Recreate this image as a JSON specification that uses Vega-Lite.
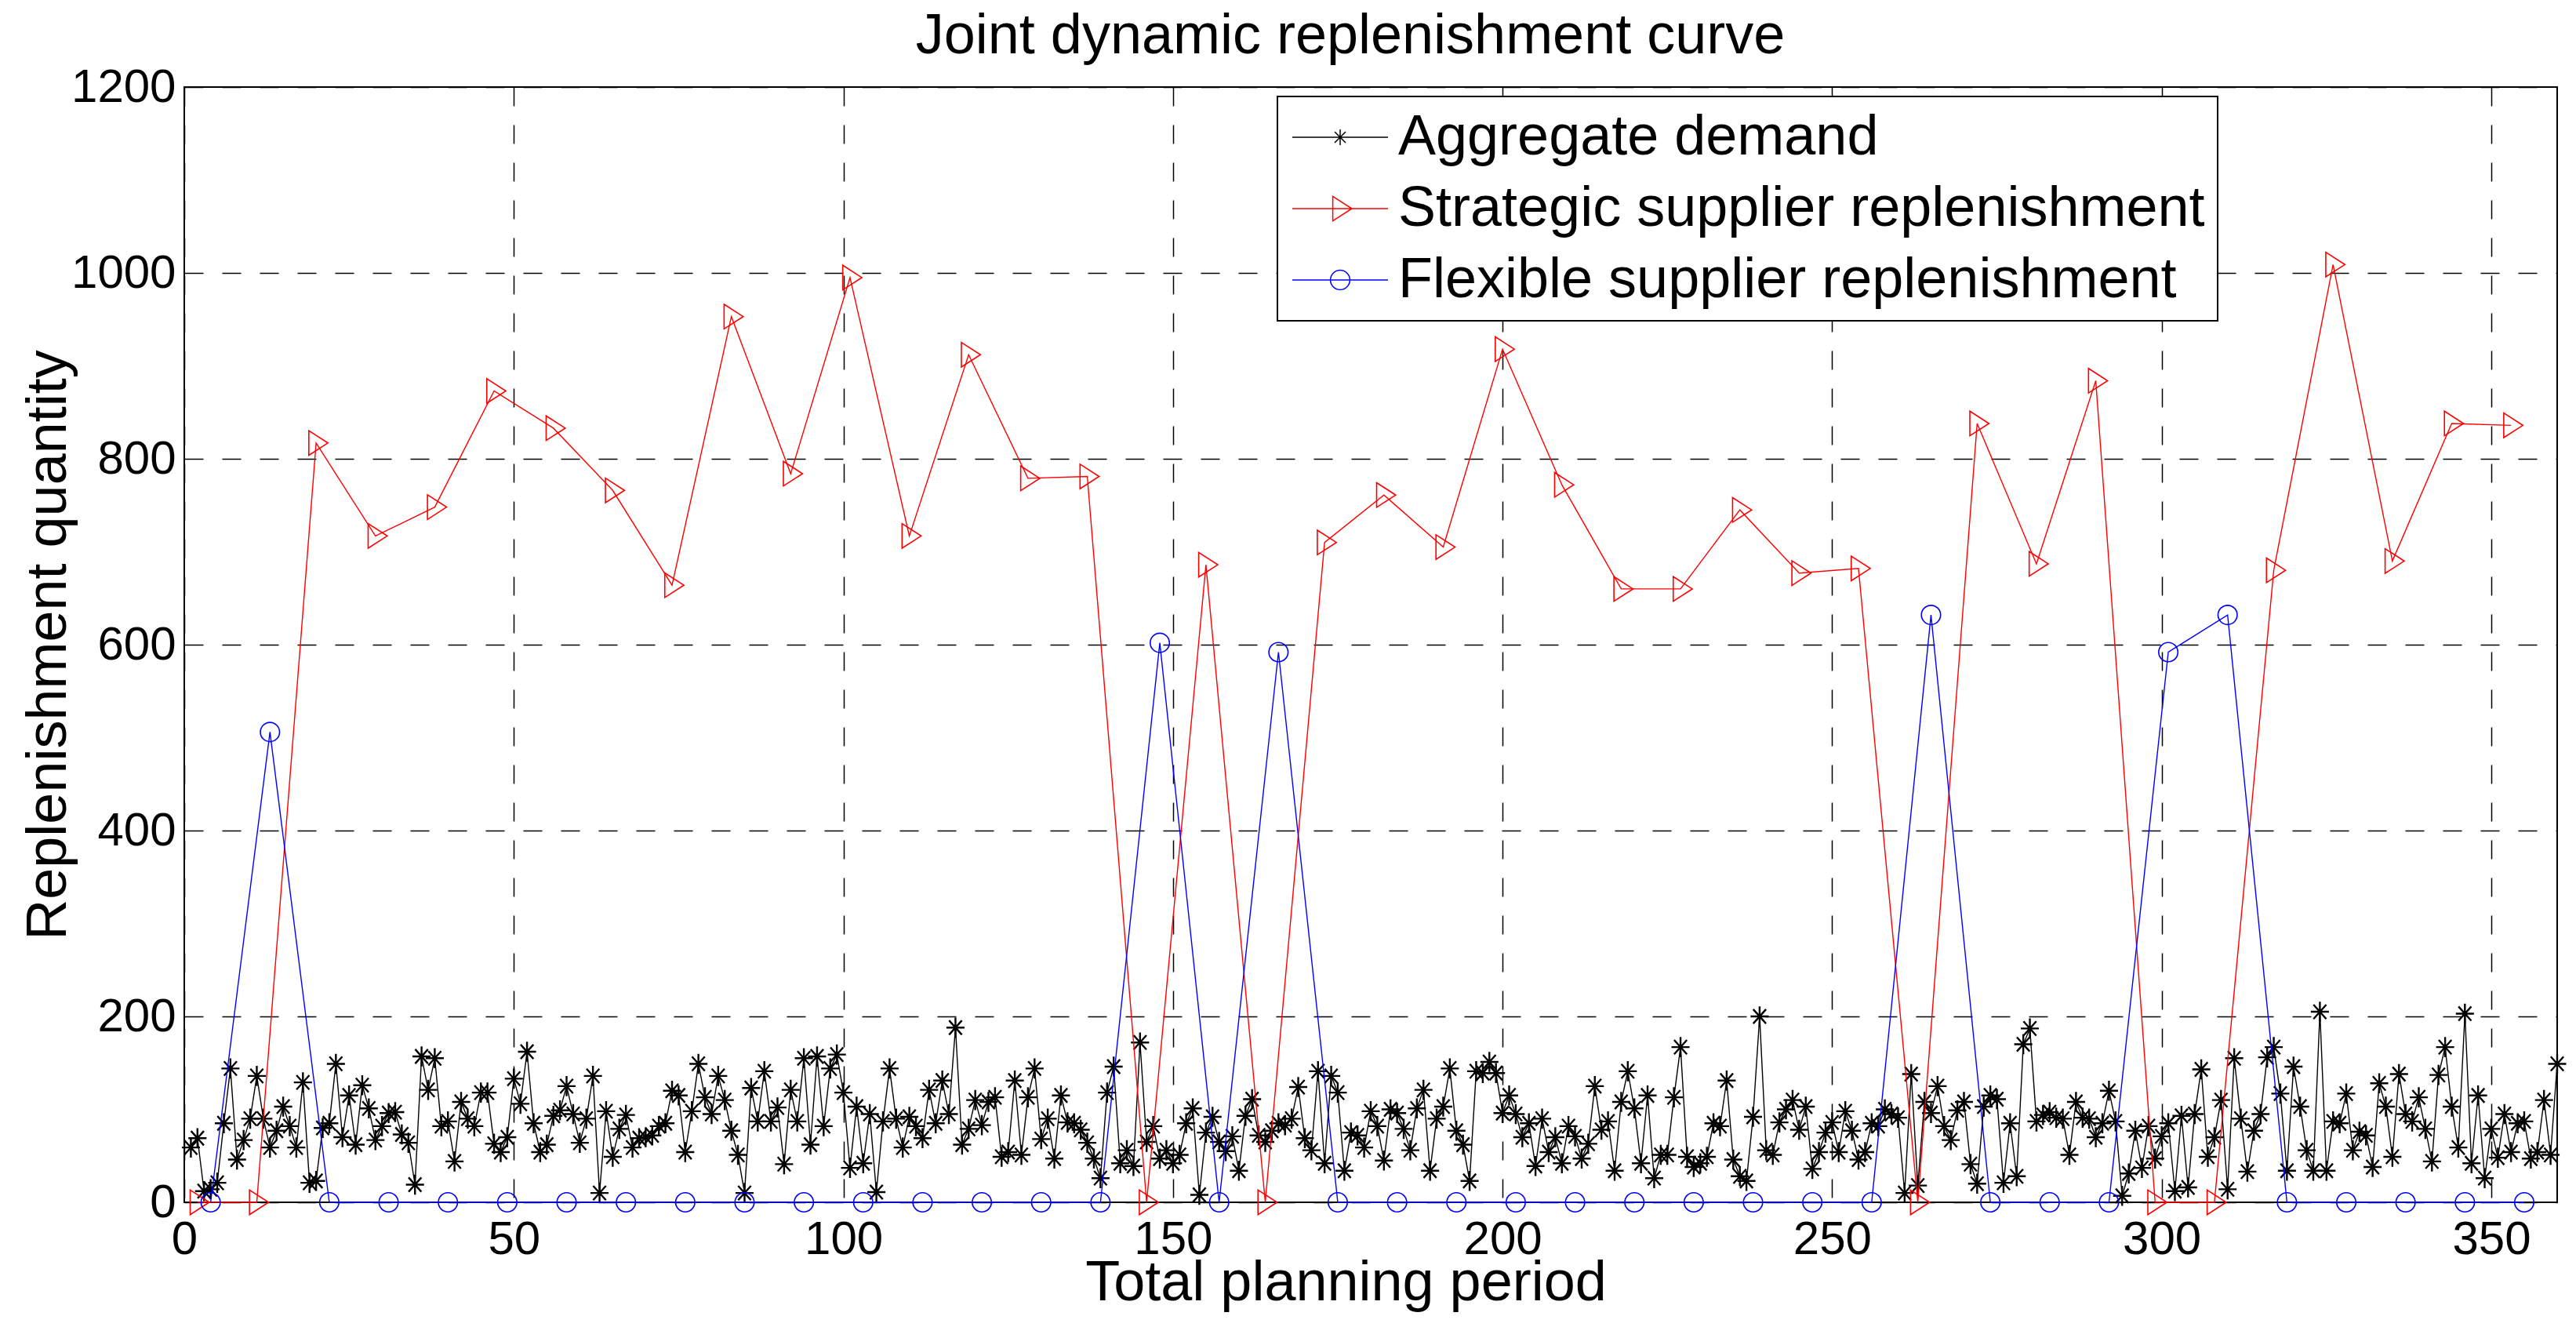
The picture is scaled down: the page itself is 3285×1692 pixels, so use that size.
{
  "$schema": "https://vega.github.io/schema/vega-lite/v6.json",
  "width": 3026,
  "height": 1422,
  "autosize": {"type": "none"},
  "padding": {"left": 235, "top": 111, "right": 24, "bottom": 159},
  "background": "#ffffff",
  "title": {
    "text": "Joint dynamic replenishment curve",
    "font": "Liberation Sans", "fontSize": 72, "fontWeight": "normal", "color": "#000000",
    "baseline": "alphabetic", "offset": -59, "dx": -26
  },
  "datasets": {
    "demand": [
      {"period":1,"quantity":59},{"period":2,"quantity":69},{"period":3,"quantity":12},{"period":4,"quantity":14},{"period":5,"quantity":21},
      {"period":6,"quantity":85},{"period":7,"quantity":144},{"period":8,"quantity":46},{"period":9,"quantity":67},{"period":10,"quantity":90},
      {"period":11,"quantity":136},{"period":12,"quantity":90},{"period":13,"quantity":59},{"period":14,"quantity":77},{"period":15,"quantity":103},
      {"period":16,"quantity":82},{"period":17,"quantity":59},{"period":18,"quantity":129},{"period":19,"quantity":21},{"period":20,"quantity":23},
      {"period":21,"quantity":80},{"period":22,"quantity":85},{"period":23,"quantity":149},{"period":24,"quantity":70},{"period":25,"quantity":115},
      {"period":26,"quantity":62},{"period":27,"quantity":126},{"period":28,"quantity":101},{"period":29,"quantity":67},{"period":30,"quantity":82},
      {"period":31,"quantity":96},{"period":32,"quantity":97},{"period":33,"quantity":73},{"period":34,"quantity":64},{"period":35,"quantity":19},
      {"period":36,"quantity":157},{"period":37,"quantity":121},{"period":38,"quantity":155},{"period":39,"quantity":82},{"period":40,"quantity":87},
      {"period":41,"quantity":44},{"period":42,"quantity":108},{"period":43,"quantity":90},{"period":44,"quantity":82},{"period":45,"quantity":118},
      {"period":46,"quantity":118},{"period":47,"quantity":63},{"period":48,"quantity":54},{"period":49,"quantity":70},{"period":50,"quantity":133},
      {"period":51,"quantity":106},{"period":52,"quantity":162},{"period":53,"quantity":85},{"period":54,"quantity":54},{"period":55,"quantity":62},
      {"period":56,"quantity":93},{"period":57,"quantity":99},{"period":58,"quantity":125},{"period":59,"quantity":95},{"period":60,"quantity":64},
      {"period":61,"quantity":90},{"period":62,"quantity":136},{"period":63,"quantity":10},{"period":64,"quantity":98},{"period":65,"quantity":49},
      {"period":66,"quantity":79},{"period":67,"quantity":94},{"period":68,"quantity":59},{"period":69,"quantity":69},{"period":70,"quantity":70},
      {"period":71,"quantity":72},{"period":72,"quantity":82},{"period":73,"quantity":85},{"period":74,"quantity":120},{"period":75,"quantity":115},
      {"period":76,"quantity":54},{"period":77,"quantity":98},{"period":78,"quantity":149},{"period":79,"quantity":113},{"period":80,"quantity":95},
      {"period":81,"quantity":136},{"period":82,"quantity":110},{"period":83,"quantity":77},{"period":84,"quantity":51},{"period":85,"quantity":10},
      {"period":86,"quantity":123},{"period":87,"quantity":87},{"period":88,"quantity":141},{"period":89,"quantity":87},{"period":90,"quantity":102},
      {"period":91,"quantity":41},{"period":92,"quantity":121},{"period":93,"quantity":87},{"period":94,"quantity":155},{"period":95,"quantity":62},
      {"period":96,"quantity":157},{"period":97,"quantity":82},{"period":98,"quantity":144},{"period":99,"quantity":159},{"period":100,"quantity":118},
      {"period":101,"quantity":37},{"period":102,"quantity":103},{"period":103,"quantity":42},{"period":104,"quantity":95},{"period":105,"quantity":11},
      {"period":106,"quantity":87},{"period":107,"quantity":144},{"period":108,"quantity":90},{"period":109,"quantity":59},{"period":110,"quantity":92},
      {"period":111,"quantity":82},{"period":112,"quantity":69},{"period":113,"quantity":121},{"period":114,"quantity":85},{"period":115,"quantity":131},
      {"period":116,"quantity":95},{"period":117,"quantity":188},{"period":118,"quantity":62},{"period":119,"quantity":79},{"period":120,"quantity":110},
      {"period":121,"quantity":83},{"period":122,"quantity":108},{"period":123,"quantity":113},{"period":124,"quantity":49},{"period":125,"quantity":54},
      {"period":126,"quantity":131},{"period":127,"quantity":51},{"period":128,"quantity":113},{"period":129,"quantity":144},{"period":130,"quantity":68},
      {"period":131,"quantity":90},{"period":132,"quantity":47},{"period":133,"quantity":115},{"period":134,"quantity":86},{"period":135,"quantity":85},
      {"period":136,"quantity":78},{"period":137,"quantity":64},{"period":138,"quantity":47},{"period":139,"quantity":26},{"period":140,"quantity":118},
      {"period":141,"quantity":146},{"period":142,"quantity":42},{"period":143,"quantity":56},{"period":144,"quantity":39},{"period":145,"quantity":172},
      {"period":146,"quantity":65},{"period":147,"quantity":82},{"period":148,"quantity":47},{"period":149,"quantity":56},{"period":150,"quantity":42},
      {"period":151,"quantity":51},{"period":152,"quantity":85},{"period":153,"quantity":101},{"period":154,"quantity":8},{"period":155,"quantity":75},
      {"period":156,"quantity":92},{"period":157,"quantity":65},{"period":158,"quantity":55},{"period":159,"quantity":71},{"period":160,"quantity":34},
      {"period":161,"quantity":93},{"period":162,"quantity":111},{"period":163,"quantity":72},{"period":164,"quantity":65},{"period":165,"quantity":77},
      {"period":166,"quantity":85},{"period":167,"quantity":83},{"period":168,"quantity":90},{"period":169,"quantity":124},{"period":170,"quantity":69},
      {"period":171,"quantity":56},{"period":172,"quantity":141},{"period":173,"quantity":42},{"period":174,"quantity":136},{"period":175,"quantity":118},
      {"period":176,"quantity":34},{"period":177,"quantity":75},{"period":178,"quantity":72},{"period":179,"quantity":59},{"period":180,"quantity":98},
      {"period":181,"quantity":82},{"period":182,"quantity":45},{"period":183,"quantity":100},{"period":184,"quantity":96},{"period":185,"quantity":79},
      {"period":186,"quantity":56},{"period":187,"quantity":101},{"period":188,"quantity":121},{"period":189,"quantity":34},{"period":190,"quantity":90},
      {"period":191,"quantity":103},{"period":192,"quantity":144},{"period":193,"quantity":77},{"period":194,"quantity":62},{"period":195,"quantity":23},
      {"period":196,"quantity":141},{"period":197,"quantity":139},{"period":198,"quantity":151},{"period":199,"quantity":139},{"period":200,"quantity":96},
      {"period":201,"quantity":115},{"period":202,"quantity":95},{"period":203,"quantity":70},{"period":204,"quantity":85},{"period":205,"quantity":39},
      {"period":206,"quantity":90},{"period":207,"quantity":54},{"period":208,"quantity":70},{"period":209,"quantity":42},{"period":210,"quantity":82},
      {"period":211,"quantity":71},{"period":212,"quantity":47},{"period":213,"quantity":63},{"period":214,"quantity":125},{"period":215,"quantity":78},
      {"period":216,"quantity":87},{"period":217,"quantity":34},{"period":218,"quantity":108},{"period":219,"quantity":141},{"period":220,"quantity":101},
      {"period":221,"quantity":42},{"period":222,"quantity":115},{"period":223,"quantity":26},{"period":224,"quantity":51},{"period":225,"quantity":51},
      {"period":226,"quantity":113},{"period":227,"quantity":167},{"period":228,"quantity":49},{"period":229,"quantity":38},{"period":230,"quantity":42},
      {"period":231,"quantity":49},{"period":232,"quantity":85},{"period":233,"quantity":82},{"period":234,"quantity":131},{"period":235,"quantity":46},
      {"period":236,"quantity":28},{"period":237,"quantity":23},{"period":238,"quantity":92},{"period":239,"quantity":200},{"period":240,"quantity":56},
      {"period":241,"quantity":51},{"period":242,"quantity":86},{"period":243,"quantity":100},{"period":244,"quantity":110},{"period":245,"quantity":78},
      {"period":246,"quantity":103},{"period":247,"quantity":36},{"period":248,"quantity":54},{"period":249,"quantity":75},{"period":250,"quantity":86},
      {"period":251,"quantity":54},{"period":252,"quantity":98},{"period":253,"quantity":77},{"period":254,"quantity":46},{"period":255,"quantity":54},
      {"period":256,"quantity":85},{"period":257,"quantity":82},{"period":258,"quantity":100},{"period":259,"quantity":95},{"period":260,"quantity":91},
      {"period":261,"quantity":10},{"period":262,"quantity":138},{"period":263,"quantity":18},{"period":264,"quantity":108},{"period":265,"quantity":96},
      {"period":266,"quantity":125},{"period":267,"quantity":82},{"period":268,"quantity":67},{"period":269,"quantity":99},{"period":270,"quantity":108},
      {"period":271,"quantity":41},{"period":272,"quantity":20},{"period":273,"quantity":103},{"period":274,"quantity":115},{"period":275,"quantity":111},
      {"period":276,"quantity":21},{"period":277,"quantity":85},{"period":278,"quantity":28},{"period":279,"quantity":170},{"period":280,"quantity":187},
      {"period":281,"quantity":87},{"period":282,"quantity":94},{"period":283,"quantity":97},{"period":284,"quantity":91},{"period":285,"quantity":90},
      {"period":286,"quantity":51},{"period":287,"quantity":108},{"period":288,"quantity":91},{"period":289,"quantity":90},{"period":290,"quantity":70},
      {"period":291,"quantity":85},{"period":292,"quantity":120},{"period":293,"quantity":87},{"period":294,"quantity":7},{"period":295,"quantity":31},
      {"period":296,"quantity":77},{"period":297,"quantity":37},{"period":298,"quantity":82},{"period":299,"quantity":47},{"period":300,"quantity":71},
      {"period":301,"quantity":85},{"period":302,"quantity":12},{"period":303,"quantity":93},{"period":304,"quantity":16},{"period":305,"quantity":95},
      {"period":306,"quantity":143},{"period":307,"quantity":49},{"period":308,"quantity":70},{"period":309,"quantity":110},{"period":310,"quantity":14},
      {"period":311,"quantity":155},{"period":312,"quantity":90},{"period":313,"quantity":33},{"period":314,"quantity":77},{"period":315,"quantity":95},
      {"period":316,"quantity":156},{"period":317,"quantity":167},{"period":318,"quantity":117},{"period":319,"quantity":34},{"period":320,"quantity":146},
      {"period":321,"quantity":103},{"period":322,"quantity":56},{"period":323,"quantity":34},{"period":324,"quantity":205},{"period":325,"quantity":34},
      {"period":326,"quantity":87},{"period":327,"quantity":85},{"period":328,"quantity":117},{"period":329,"quantity":56},{"period":330,"quantity":76},
      {"period":331,"quantity":72},{"period":332,"quantity":38},{"period":333,"quantity":128},{"period":334,"quantity":103},{"period":335,"quantity":49},
      {"period":336,"quantity":138},{"period":337,"quantity":95},{"period":338,"quantity":87},{"period":339,"quantity":113},{"period":340,"quantity":79},
      {"period":341,"quantity":44},{"period":342,"quantity":137},{"period":343,"quantity":167},{"period":344,"quantity":103},{"period":345,"quantity":59},
      {"period":346,"quantity":203},{"period":347,"quantity":42},{"period":348,"quantity":115},{"period":349,"quantity":26},{"period":350,"quantity":79},
      {"period":351,"quantity":48},{"period":352,"quantity":95},{"period":353,"quantity":54},{"period":354,"quantity":85},{"period":355,"quantity":87},
      {"period":356,"quantity":47},{"period":357,"quantity":54},{"period":358,"quantity":110},{"period":359,"quantity":51},{"period":360,"quantity":149}
    ],
    "strategic": [
      {"period":2,"quantity":0},{"period":11,"quantity":0},{"period":20,"quantity":817},{"period":29,"quantity":717},{"period":38,"quantity":748},
      {"period":47,"quantity":873},{"period":56,"quantity":833},{"period":65,"quantity":766},{"period":74,"quantity":664},{"period":83,"quantity":953},
      {"period":92,"quantity":784},{"period":101,"quantity":995},{"period":110,"quantity":717},{"period":119,"quantity":912},{"period":128,"quantity":779},
      {"period":137,"quantity":781},{"period":146,"quantity":0},{"period":155,"quantity":686},{"period":164,"quantity":0},{"period":173,"quantity":710},
      {"period":182,"quantity":761},{"period":191,"quantity":705},{"period":200,"quantity":918},{"period":209,"quantity":772},{"period":218,"quantity":660},
      {"period":227,"quantity":660},{"period":236,"quantity":745},{"period":245,"quantity":677},{"period":254,"quantity":682},{"period":263,"quantity":0},
      {"period":272,"quantity":838},{"period":281,"quantity":687},{"period":290,"quantity":884},{"period":299,"quantity":0},{"period":308,"quantity":0},
      {"period":317,"quantity":680},{"period":326,"quantity":1009},{"period":335,"quantity":690},{"period":344,"quantity":838},{"period":353,"quantity":836}
    ],
    "flexible": [
      {"period":4,"quantity":0},{"period":13,"quantity":506},{"period":22,"quantity":0},{"period":31,"quantity":0},{"period":40,"quantity":0},
      {"period":49,"quantity":0},{"period":58,"quantity":0},{"period":67,"quantity":0},{"period":76,"quantity":0},{"period":85,"quantity":0},
      {"period":94,"quantity":0},{"period":103,"quantity":0},{"period":112,"quantity":0},{"period":121,"quantity":0},{"period":130,"quantity":0},
      {"period":139,"quantity":0},{"period":148,"quantity":602},{"period":157,"quantity":0},{"period":166,"quantity":592},{"period":175,"quantity":0},
      {"period":184,"quantity":0},{"period":193,"quantity":0},{"period":202,"quantity":0},{"period":211,"quantity":0},{"period":220,"quantity":0},
      {"period":229,"quantity":0},{"period":238,"quantity":0},{"period":247,"quantity":0},{"period":256,"quantity":0},{"period":265,"quantity":632},
      {"period":274,"quantity":0},{"period":283,"quantity":0},{"period":292,"quantity":0},{"period":301,"quantity":592},{"period":310,"quantity":632},
      {"period":319,"quantity":0},{"period":328,"quantity":0},{"period":337,"quantity":0},{"period":346,"quantity":0},{"period":355,"quantity":0}
    ]
  },
  "encoding": {
    "x": {
      "field": "period", "type": "quantitative",
      "scale": {"domain": [0, 360], "nice": false, "zero": false},
      "axis": {
        "values": [0, 50, 100, 150, 200, 250, 300, 350],
        "format": "d",
        "title": "Total planning period",
        "grid": true, "gridColor": "#000000", "gridDash": [24, 24], "gridWidth": 1.5, "gridOpacity": 1,
        "ticks": false, "domain": false,
        "labelFont": "Liberation Sans", "labelFontSize": 60, "labelColor": "#000000",
        "labelPadding": 18, "labelFlush": false, "labelOverlap": false,
        "titleFont": "Liberation Sans", "titleFontSize": 72, "titleFontWeight": "normal", "titleColor": "#000000",
        "titleBaseline": "alphabetic", "titleX": 1481, "titleY": 124
      }
    },
    "y": {
      "field": "quantity", "type": "quantitative",
      "scale": {"domain": [0, 1200], "nice": false},
      "axis": {
        "values": [0, 200, 400, 600, 800, 1000, 1200],
        "format": "d",
        "title": "Replenishment quantity",
        "grid": true, "gridColor": "#000000", "gridDash": [24, 24], "gridWidth": 1.5, "gridOpacity": 1,
        "ticks": false, "domain": false,
        "labelFont": "Liberation Sans", "labelFontSize": 60, "labelColor": "#000000",
        "labelPadding": 11, "labelFlush": false, "labelOverlap": false,
        "titleFont": "Liberation Sans", "titleFontSize": 72, "titleFontWeight": "normal", "titleColor": "#000000",
        "titleBaseline": "alphabetic", "titleX": -152
      }
    }
  },
  "layer": [
    {
      "data": {"name": "demand"},
      "mark": {"type": "line", "strokeWidth": 1.4},
      "encoding": {
        "color": {
          "datum": "Aggregate demand", "type": "nominal",
          "scale": {
            "domain": ["Aggregate demand", "Strategic supplier replenishment", "Flexible supplier replenishment"],
            "range": ["#000000", "#ff0000", "#0000ff"]
          },
          "legend": {
            "title": null, "orient": "none", "legendX": 1394, "legendY": 12,
            "padding": 16, "rowPadding": 19,
            "labelFont": "Liberation Sans", "labelFontSize": 72, "labelColor": "#000000", "labelLimit": 3000,
            "labelExpr": "datum.label + '\u00a0\u00a0'",
            "symbolSize": 1600, "symbolStrokeWidth": 1.5, "symbolOffset": 28, "labelOffset": 38,
            "encode": {
              "legend": {"update": {"stroke": {"value": "#000000"}, "strokeWidth": {"value": 2}, "fill": {"value": "#ffffff"}}},
              "symbols": {"update": {
                "fill": {"value": "transparent"},
                "shape": {"signal": "datum.value === 'Aggregate demand' ? 'M-3.05,0H3.05M0,-0.5V0.5M-0.35,-0.35L0.35,0.35M-0.35,0.35L0.35,-0.35' : datum.value === 'Strategic supplier replenishment' ? 'M-3.05,0H3.05M-0.47,-0.78L0.75,0L-0.47,0.78Z' : 'M-3.05,0H3.05M0.62,0A0.62,0.62 0 1,1 -0.62,0A0.62,0.62 0 1,1 0.62,0Z'"}
              }}
            }
          }
        }
      }
    },
    {
      "data": {"name": "demand"},
      "mark": {"type": "point", "filled": false, "opacity": 1, "strokeWidth": 2.4, "size": 1024,
               "shape": "M-0.72,0H0.72M0,-0.8V0.8M-0.51,-0.57L0.51,0.57M-0.51,0.57L0.51,-0.57"},
      "encoding": {"color": {"datum": "Aggregate demand", "type": "nominal"}}
    },
    {
      "data": {"name": "strategic"},
      "mark": {"type": "line", "strokeWidth": 1.4},
      "encoding": {"color": {"datum": "Strategic supplier replenishment", "type": "nominal"}}
    },
    {
      "data": {"name": "strategic"},
      "mark": {"type": "point", "filled": false, "opacity": 1, "strokeWidth": 1.6, "size": 1024,
               "shape": "M-0.58,-0.98L0.94,0L-0.58,0.98Z"},
      "encoding": {"color": {"datum": "Strategic supplier replenishment", "type": "nominal"}}
    },
    {
      "data": {"name": "flexible"},
      "mark": {"type": "line", "strokeWidth": 1.4},
      "encoding": {"color": {"datum": "Flexible supplier replenishment", "type": "nominal"}}
    },
    {
      "data": {"name": "flexible"},
      "mark": {"type": "point", "filled": false, "opacity": 1, "strokeWidth": 1.6, "size": 600, "shape": "circle"},
      "encoding": {"color": {"datum": "Flexible supplier replenishment", "type": "nominal"}}
    }
  ],
  "config": {
    "view": {"stroke": "#000000", "strokeWidth": 2},
    "font": "Liberation Sans"
  }
}
